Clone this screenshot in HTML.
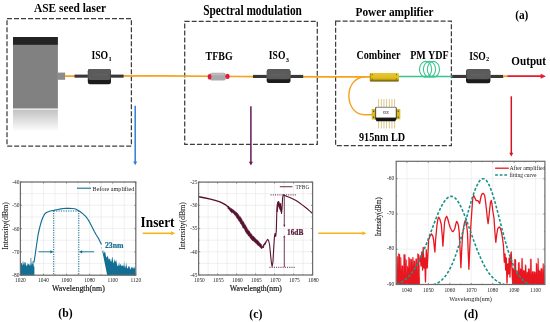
<!DOCTYPE html>
<html><head><meta charset="utf-8"><title>Fiber laser setup</title>
<style>html,body{margin:0;padding:0;background:#fff;width:550px;height:322px;overflow:hidden}svg{display:block}</style>
</head><body>
<svg width="550" height="322" viewBox="0 0 550 322" font-family='"Liberation Serif", "Times New Roman", serif'>
<defs><linearGradient id="refl" x1="0" y1="0" x2="0" y2="1"><stop offset="0" stop-color="#c2c2c2"/><stop offset="1" stop-color="#ffffff"/></linearGradient></defs>
<rect width="550" height="322" fill="#fff"/>
<text x="34" y="11.6" font-size="13.3" font-weight="bold" fill="#000" text-anchor="start" textLength="72" lengthAdjust="spacingAndGlyphs" >ASE seed laser</text>
<text x="203.2" y="14.8" font-size="13.7" font-weight="bold" fill="#000" text-anchor="start" textLength="98.7" lengthAdjust="spacingAndGlyphs" >Spectral modulation</text>
<text x="355.5" y="15.7" font-size="13.4" font-weight="bold" fill="#000" text-anchor="start" textLength="78" lengthAdjust="spacingAndGlyphs" >Power amplifier</text>
<text x="515.2" y="18.8" font-size="13" font-weight="bold" fill="#000" text-anchor="start" textLength="13.2" lengthAdjust="spacingAndGlyphs" >(a)</text>
<rect x="7" y="18.6" width="124.4" height="127.4" fill="none" stroke="#3e3e3e" stroke-width="1.25" stroke-dasharray="5 2"/>
<rect x="184.7" y="21.4" width="132.60000000000002" height="123.0" fill="none" stroke="#3e3e3e" stroke-width="1.25" stroke-dasharray="5 2"/>
<rect x="335.6" y="21" width="115.79999999999995" height="124.6" fill="none" stroke="#3e3e3e" stroke-width="1.25" stroke-dasharray="5 2"/>
<rect x="13" y="37" width="44.9" height="8" fill="#232323"/>
<rect x="13" y="44.8" width="44.9" height="63.7" fill="#818181"/>
<rect x="13" y="109.6" width="44.9" height="22" fill="url(#refl)"/>
<rect x="57.9" y="72.6" width="7.2" height="7.2" fill="#8c8c8c"/>
<polyline points="65,76.2 160,75.9 240,76.5 340,76.9 372,76.9" fill="none" stroke="#f6a21f" stroke-width="1.7"/>
<line x1="398" y1="76.5" x2="454" y2="76.5" stroke="#3cc48e" stroke-width="1.4"/>
<path d="M 365 77 C 343.5 77, 343.5 114.7, 365 114.7 L 373 114.7" fill="none" stroke="#f5a21e" stroke-width="1.4"/>
<rect x="74.5" y="74.60000000000001" width="13.299999999999997" height="3.1" fill="#383838"/>
<rect x="111" y="74.60000000000001" width="12.599999999999994" height="3.1" fill="#383838"/>
<rect x="87.8" y="69.1" width="23.200000000000003" height="15.200000000000003" rx="2.2" fill="#1c1c1c"/>
<rect x="88.1" y="69.1" width="22.6" height="10.944" rx="2" fill="#5b5b5b"/>
<rect x="91.8" y="74.39999999999999" width="15.200000000000003" height="0.8" fill="#6e6e6e" opacity="0.6"/>
<text x="91.4" y="59.1" font-size="11.8" font-weight="bold" fill="#000" text-anchor="start" textLength="16.8" lengthAdjust="spacingAndGlyphs" >ISO</text>
<text x="108.6" y="61.4" font-size="6.4" font-weight="bold" fill="#000" text-anchor="start" >1</text>
<text x="205.6" y="59.8" font-size="12" font-weight="bold" fill="#000" text-anchor="start" textLength="27" lengthAdjust="spacingAndGlyphs" >TFBG</text>
<rect x="209.8" y="72.7" width="16" height="7.9" rx="2" fill="#a9a9a9"/>
<rect x="211" y="73.3" width="13.5" height="2" fill="#c4c4c4" opacity="0.7"/>
<ellipse cx="209.6" cy="76.8" rx="1.9" ry="2.8" fill="#e8163c"/>
<ellipse cx="227.5" cy="76.4" rx="2.2" ry="2.6" fill="#e8163c"/>
<rect x="253" y="74.9" width="13.699999999999989" height="3.1" fill="#383838"/>
<rect x="290.5" y="74.9" width="12.699999999999989" height="3.1" fill="#383838"/>
<rect x="266.7" y="69.2" width="23.80000000000001" height="13.799999999999997" rx="2.2" fill="#1c1c1c"/>
<rect x="267.0" y="69.2" width="23.20000000000001" height="9.935999999999998" rx="2" fill="#5b5b5b"/>
<rect x="270.7" y="74.5" width="15.800000000000011" height="0.8" fill="#6e6e6e" opacity="0.6"/>
<text x="268.8" y="59.4" font-size="11.8" font-weight="bold" fill="#000" text-anchor="start" textLength="16.6" lengthAdjust="spacingAndGlyphs" >ISO</text>
<text x="285.8" y="61.6" font-size="6.4" font-weight="bold" fill="#000" text-anchor="start" >3</text>
<text x="356.4" y="59.4" font-size="12" font-weight="bold" fill="#000" text-anchor="start" textLength="44" lengthAdjust="spacingAndGlyphs" >Combiner</text>
<defs><linearGradient id="cmb" x1="0" y1="0" x2="0" y2="1"><stop offset="0" stop-color="#e8c832"/><stop offset="0.6" stop-color="#dfbd1c"/><stop offset="0.78" stop-color="#b89a10"/><stop offset="1" stop-color="#4a3c00"/></linearGradient></defs>
<rect x="369.8" y="72.9" width="29.1" height="8.7" rx="1" fill="url(#cmb)"/>
<rect x="369.8" y="73.2" width="1.3" height="8" fill="#9a8000" opacity="0.6"/>
<circle cx="372.3" cy="74.6" r="0.55" fill="#6b5800"/>
<circle cx="396.4" cy="74.6" r="0.55" fill="#6b5800"/>
<circle cx="372.3" cy="79.0" r="0.55" fill="#6b5800"/>
<circle cx="396.4" cy="79.0" r="0.55" fill="#6b5800"/>
<text x="410.2" y="59" font-size="12" font-weight="bold" fill="#000" text-anchor="start" textLength="38.5" lengthAdjust="spacingAndGlyphs" >PM YDF</text>
<ellipse cx="425.6" cy="69.3" rx="6.1" ry="7.9" fill="none" stroke="#3cc48e" stroke-width="1.1"/>
<ellipse cx="429.5" cy="69.3" rx="6.1" ry="7.9" fill="none" stroke="#3cc48e" stroke-width="1.1"/>
<ellipse cx="433.4" cy="69.3" rx="6.1" ry="7.9" fill="none" stroke="#3cc48e" stroke-width="1.1"/>
<rect x="378.15" y="99.1" width="0.9" height="8.2" fill="#d6c27e"/>
<rect x="378.15" y="121" width="0.9" height="7.4" fill="#d6c27e"/>
<rect x="380.82" y="99.1" width="0.9" height="8.2" fill="#d6c27e"/>
<rect x="380.82" y="121" width="0.9" height="7.4" fill="#d6c27e"/>
<rect x="383.49" y="99.1" width="0.9" height="8.2" fill="#d6c27e"/>
<rect x="383.49" y="121" width="0.9" height="7.4" fill="#d6c27e"/>
<rect x="386.16" y="99.1" width="0.9" height="8.2" fill="#d6c27e"/>
<rect x="386.16" y="121" width="0.9" height="7.4" fill="#d6c27e"/>
<rect x="388.83" y="99.1" width="0.9" height="8.2" fill="#d6c27e"/>
<rect x="388.83" y="121" width="0.9" height="7.4" fill="#d6c27e"/>
<rect x="391.50" y="99.1" width="0.9" height="8.2" fill="#d6c27e"/>
<rect x="391.50" y="121" width="0.9" height="7.4" fill="#d6c27e"/>
<rect x="394.17" y="99.1" width="0.9" height="8.2" fill="#d6c27e"/>
<rect x="394.17" y="121" width="0.9" height="7.4" fill="#d6c27e"/>
<rect x="371.7" y="109" width="4.2" height="10.5" fill="#d8bb22"/>
<rect x="395.9" y="109" width="4.4" height="10.3" fill="#d8bb22"/>
<circle cx="373.6" cy="111.2" r="0.75" fill="#4a4a3a"/><circle cx="373.6" cy="117.3" r="0.75" fill="#4a4a3a"/>
<circle cx="398.2" cy="111.2" r="0.75" fill="#4a4a3a"/><circle cx="398.2" cy="117.3" r="0.75" fill="#4a4a3a"/>
<path d="M 375.3 108 Q 375.3 107 376.3 107 L 395.5 107 Q 396.5 107 396.5 108 L 396.5 119 L 395.2 121.3 L 376.6 121.3 L 375.3 119 Z" fill="#141414"/>
<rect x="375.8" y="107.2" width="20.2" height="10.6" rx="0.8" fill="#ffffff" stroke="#333" stroke-width="0.4"/>
<text x="385.8" y="113.6" font-size="3" fill="#555" text-anchor="middle" font-family="Liberation Sans, sans-serif" font-weight="bold">XXX</text>
<text x="359" y="140.6" font-size="11.6" font-weight="bold" fill="#000" text-anchor="start" textLength="46" lengthAdjust="spacingAndGlyphs" >915nm LD</text>
<rect x="452.2" y="74.9" width="13.800000000000011" height="3.1" fill="#383838"/>
<rect x="490.4" y="74.9" width="12.900000000000034" height="3.1" fill="#383838"/>
<rect x="466" y="69.2" width="24.399999999999977" height="14.0" rx="2.2" fill="#1c1c1c"/>
<rect x="466.3" y="69.2" width="23.799999999999976" height="10.08" rx="2" fill="#5b5b5b"/>
<rect x="470" y="74.5" width="16.399999999999977" height="0.8" fill="#6e6e6e" opacity="0.6"/>
<text x="469.2" y="59.9" font-size="11.8" font-weight="bold" fill="#000" text-anchor="start" textLength="16.6" lengthAdjust="spacingAndGlyphs" >ISO</text>
<text x="486.1" y="61.4" font-size="6.4" font-weight="bold" fill="#000" text-anchor="start" >2</text>
<line x1="503.3" y1="76.2" x2="507.6" y2="76.2" stroke="#f5a21e" stroke-width="1.8"/>
<line x1="507.4" y1="76.2" x2="541.5" y2="76.2" stroke="#e8192c" stroke-width="1.8"/>
<path d="M 540.6 73.7 L 546 76.2 L 540.6 78.7 Z" fill="#e8192c"/>
<text x="511.3" y="64.9" font-size="12.4" font-weight="bold" fill="#000" text-anchor="start" textLength="34.7" lengthAdjust="spacingAndGlyphs" >Output</text>
<line x1="135.2" y1="105.7" x2="135.2" y2="162.3" stroke="#2f7fd0" stroke-width="1.5"/>
<path d="M 133.2 161.5 L 135.2 165.3 L 137.2 161.5 Z" fill="#2f7fd0"/>
<line x1="250.9" y1="106.2" x2="250.9" y2="162.5" stroke="#5e1a55" stroke-width="1.5"/>
<path d="M 248.9 161.7 L 250.9 165.5 L 252.9 161.7 Z" fill="#5e1a55"/>
<line x1="511.3" y1="96.3" x2="511.3" y2="153.5" stroke="#d4141f" stroke-width="1.5"/>
<path d="M 509.3 152.7 L 511.3 156.5 L 513.3 152.7 Z" fill="#d4141f"/>
<line x1="31.94" y1="182.0" x2="31.94" y2="275.2" stroke="#e6e6e6" stroke-width="0.6"/>
<line x1="55.02" y1="182.0" x2="55.02" y2="275.2" stroke="#e6e6e6" stroke-width="0.6"/>
<line x1="78.10" y1="182.0" x2="78.10" y2="275.2" stroke="#e6e6e6" stroke-width="0.6"/>
<line x1="101.18" y1="182.0" x2="101.18" y2="275.2" stroke="#e6e6e6" stroke-width="0.6"/>
<line x1="124.26" y1="182.0" x2="124.26" y2="275.2" stroke="#e6e6e6" stroke-width="0.6"/>
<line x1="20.40" y1="182.0" x2="20.40" y2="275.2" stroke="#e6e6e6" stroke-width="0.6"/>
<line x1="43.48" y1="182.0" x2="43.48" y2="275.2" stroke="#e6e6e6" stroke-width="0.6"/>
<line x1="66.56" y1="182.0" x2="66.56" y2="275.2" stroke="#e6e6e6" stroke-width="0.6"/>
<line x1="89.64" y1="182.0" x2="89.64" y2="275.2" stroke="#e6e6e6" stroke-width="0.6"/>
<line x1="112.72" y1="182.0" x2="112.72" y2="275.2" stroke="#e6e6e6" stroke-width="0.6"/>
<line x1="135.80" y1="182.0" x2="135.80" y2="275.2" stroke="#e6e6e6" stroke-width="0.6"/>
<line x1="20.4" y1="193.65" x2="135.8" y2="193.65" stroke="#e6e6e6" stroke-width="0.6"/>
<line x1="20.4" y1="216.95" x2="135.8" y2="216.95" stroke="#e6e6e6" stroke-width="0.6"/>
<line x1="20.4" y1="240.25" x2="135.8" y2="240.25" stroke="#e6e6e6" stroke-width="0.6"/>
<line x1="20.4" y1="263.55" x2="135.8" y2="263.55" stroke="#e6e6e6" stroke-width="0.6"/>
<line x1="20.4" y1="182.00" x2="135.8" y2="182.00" stroke="#e6e6e6" stroke-width="0.6"/>
<line x1="20.4" y1="205.30" x2="135.8" y2="205.30" stroke="#e6e6e6" stroke-width="0.6"/>
<line x1="20.4" y1="228.60" x2="135.8" y2="228.60" stroke="#e6e6e6" stroke-width="0.6"/>
<line x1="20.4" y1="251.90" x2="135.8" y2="251.90" stroke="#e6e6e6" stroke-width="0.6"/>
<line x1="20.4" y1="275.20" x2="135.8" y2="275.20" stroke="#e6e6e6" stroke-width="0.6"/>
<polygon points="20.90,262.16 21.35,263.19 21.80,262.96 22.25,264.77 22.70,265.64 23.15,263.66 23.60,263.04 24.05,265.50 24.50,262.37 24.95,261.94 25.40,265.32 25.85,264.04 26.30,266.34 26.75,265.30 27.20,265.68 27.65,262.94 28.10,264.02 28.55,264.49 29.00,263.31 29.45,264.93 29.90,265.53 30.35,263.62 30.80,266.27 31.25,264.90 31.70,262.85 32.15,261.19 32.60,264.58 33.05,263.66 33.50,265.54 33.95,266.82 34.40,266.18 34.40,262.20 34.40,275.20 20.90,275.20" fill="#126e93"/>
<line x1="30.9" y1="257.9" x2="30.9" y2="266" stroke="#126e93" stroke-width="0.7"/>
<line x1="23.0" y1="261.5" x2="23.0" y2="266" stroke="#126e93" stroke-width="0.7"/>
<line x1="25.5" y1="262.5" x2="25.5" y2="266" stroke="#126e93" stroke-width="0.7"/>
<line x1="33.2" y1="261" x2="33.2" y2="266" stroke="#126e93" stroke-width="0.7"/>
<polyline points="34.00,262.50 35.00,256.00 36.00,249.00 37.00,242.00 38.30,233.50 39.80,227.10 41.20,222.00 42.60,218.00 44.00,215.20 45.40,213.20 47.00,212.20 48.20,211.70 50.50,211.00 53.70,210.40 57.90,209.50 61.00,208.90 63.50,208.50 66.00,208.30 69.10,208.30 72.00,208.50 74.50,208.80 76.10,209.30 78.30,210.40 80.30,211.80 83.00,213.90 85.90,216.60 88.00,219.50 90.00,222.90 92.10,227.00 94.20,231.30 96.30,235.00 98.40,238.30 100.00,241.50 101.50,244.50" fill="none" stroke="#126e93" stroke-width="1.15" stroke-linejoin="round"/>
<polygon points="100.80,246.50 101.60,248.71 102.10,250.39 102.60,251.25 103.10,249.75 103.60,254.10 104.10,250.93 104.60,252.91 105.10,251.71 105.60,254.35 106.10,256.76 106.60,257.46 107.10,257.31 107.60,255.58 108.10,256.81 108.60,260.08 109.10,258.08 109.60,259.47 110.10,258.75 110.60,260.99 111.10,262.06 111.60,260.49 112.10,256.81 112.60,257.86 113.10,261.44 113.60,263.52 114.10,262.05 114.60,258.86 115.10,261.63 115.60,260.35 116.10,263.34 116.60,259.34 117.10,265.93 117.60,265.45 118.10,266.36 118.60,264.49 119.10,261.85 119.60,266.44 120.10,263.85 120.60,264.19 121.10,266.20 121.60,265.37 122.10,266.25 122.60,265.57 123.10,264.85 123.60,267.20 124.10,260.47 124.60,266.92 125.10,266.00 125.60,268.26 126.10,262.13 126.60,265.56 127.10,268.49 127.60,268.13 128.10,267.80 128.60,265.95 129.10,266.13 129.60,266.69 130.10,269.25 130.60,269.20 131.10,267.48 131.60,267.47 132.10,267.23 132.60,267.17 133.10,269.30 133.60,267.67 134.10,266.23 134.60,268.75 135.10,267.27 135.40,267.79 135.40,275.20 107.20,275.20 101.50,247.50" fill="#126e93"/>
<g stroke="#126e93" stroke-width="1" stroke-dasharray="1.2 1.2" fill="none">
<line x1="53.7" y1="210.6" x2="53.7" y2="275.2"/>
<line x1="78.8" y1="210.6" x2="78.8" y2="275.2"/>
<line x1="53.7" y1="211.0" x2="78.8" y2="211.0"/>
</g>
<line x1="38.5" y1="251.8" x2="51.5" y2="251.8" stroke="#126e93" stroke-width="0.9"/>
<path d="M 50.3 250.2 L 53.6 251.8 L 50.3 253.4 Z" fill="#126e93"/>
<line x1="81" y1="251.8" x2="94.2" y2="251.8" stroke="#126e93" stroke-width="0.9"/>
<path d="M 82.2 250.2 L 78.9 251.8 L 82.2 253.4 Z" fill="#126e93"/>
<text x="105" y="247.7" font-size="8.6" font-weight="bold" fill="#126e93" text-anchor="start" textLength="18.5" lengthAdjust="spacingAndGlyphs" stroke="#126e93" stroke-width="0.2">23nm</text>
<line x1="77" y1="188.2" x2="91" y2="188.2" stroke="#126e93" stroke-width="1.1"/>
<text x="92.6" y="190.7" font-size="7.0" font-weight="normal" fill="#1a1a1a" text-anchor="start" textLength="41.8" lengthAdjust="spacingAndGlyphs" >Before amplified</text>
<line x1="31.94" y1="275.2" x2="31.94" y2="274.2" stroke="#6c6c6c" stroke-width="0.6"/>
<line x1="31.94" y1="182.0" x2="31.94" y2="183.0" stroke="#6c6c6c" stroke-width="0.6"/>
<line x1="55.02" y1="275.2" x2="55.02" y2="274.2" stroke="#6c6c6c" stroke-width="0.6"/>
<line x1="55.02" y1="182.0" x2="55.02" y2="183.0" stroke="#6c6c6c" stroke-width="0.6"/>
<line x1="78.10" y1="275.2" x2="78.10" y2="274.2" stroke="#6c6c6c" stroke-width="0.6"/>
<line x1="78.10" y1="182.0" x2="78.10" y2="183.0" stroke="#6c6c6c" stroke-width="0.6"/>
<line x1="101.18" y1="275.2" x2="101.18" y2="274.2" stroke="#6c6c6c" stroke-width="0.6"/>
<line x1="101.18" y1="182.0" x2="101.18" y2="183.0" stroke="#6c6c6c" stroke-width="0.6"/>
<line x1="124.26" y1="275.2" x2="124.26" y2="274.2" stroke="#6c6c6c" stroke-width="0.6"/>
<line x1="124.26" y1="182.0" x2="124.26" y2="183.0" stroke="#6c6c6c" stroke-width="0.6"/>
<line x1="20.4" y1="193.65" x2="21.4" y2="193.65" stroke="#6c6c6c" stroke-width="0.6"/>
<line x1="135.8" y1="193.65" x2="134.8" y2="193.65" stroke="#6c6c6c" stroke-width="0.6"/>
<line x1="20.4" y1="216.95" x2="21.4" y2="216.95" stroke="#6c6c6c" stroke-width="0.6"/>
<line x1="135.8" y1="216.95" x2="134.8" y2="216.95" stroke="#6c6c6c" stroke-width="0.6"/>
<line x1="20.4" y1="240.25" x2="21.4" y2="240.25" stroke="#6c6c6c" stroke-width="0.6"/>
<line x1="135.8" y1="240.25" x2="134.8" y2="240.25" stroke="#6c6c6c" stroke-width="0.6"/>
<line x1="20.4" y1="263.55" x2="21.4" y2="263.55" stroke="#6c6c6c" stroke-width="0.6"/>
<line x1="135.8" y1="263.55" x2="134.8" y2="263.55" stroke="#6c6c6c" stroke-width="0.6"/>
<rect x="20.4" y="182.0" width="115.4" height="93.19999999999999" fill="none" stroke="#6c6c6c" stroke-width="1.2"/>
<line x1="20.40" y1="275.2" x2="20.40" y2="273.59999999999997" stroke="#6c6c6c" stroke-width="0.7"/>
<line x1="20.40" y1="182.0" x2="20.40" y2="183.6" stroke="#6c6c6c" stroke-width="0.7"/>
<line x1="43.48" y1="275.2" x2="43.48" y2="273.59999999999997" stroke="#6c6c6c" stroke-width="0.7"/>
<line x1="43.48" y1="182.0" x2="43.48" y2="183.6" stroke="#6c6c6c" stroke-width="0.7"/>
<line x1="66.56" y1="275.2" x2="66.56" y2="273.59999999999997" stroke="#6c6c6c" stroke-width="0.7"/>
<line x1="66.56" y1="182.0" x2="66.56" y2="183.6" stroke="#6c6c6c" stroke-width="0.7"/>
<line x1="89.64" y1="275.2" x2="89.64" y2="273.59999999999997" stroke="#6c6c6c" stroke-width="0.7"/>
<line x1="89.64" y1="182.0" x2="89.64" y2="183.6" stroke="#6c6c6c" stroke-width="0.7"/>
<line x1="112.72" y1="275.2" x2="112.72" y2="273.59999999999997" stroke="#6c6c6c" stroke-width="0.7"/>
<line x1="112.72" y1="182.0" x2="112.72" y2="183.6" stroke="#6c6c6c" stroke-width="0.7"/>
<line x1="135.80" y1="275.2" x2="135.80" y2="273.59999999999997" stroke="#6c6c6c" stroke-width="0.7"/>
<line x1="135.80" y1="182.0" x2="135.80" y2="183.6" stroke="#6c6c6c" stroke-width="0.7"/>
<line x1="20.4" y1="182.00" x2="22.0" y2="182.00" stroke="#6c6c6c" stroke-width="0.7"/>
<line x1="135.8" y1="182.00" x2="134.20000000000002" y2="182.00" stroke="#6c6c6c" stroke-width="0.7"/>
<line x1="20.4" y1="205.30" x2="22.0" y2="205.30" stroke="#6c6c6c" stroke-width="0.7"/>
<line x1="135.8" y1="205.30" x2="134.20000000000002" y2="205.30" stroke="#6c6c6c" stroke-width="0.7"/>
<line x1="20.4" y1="228.60" x2="22.0" y2="228.60" stroke="#6c6c6c" stroke-width="0.7"/>
<line x1="135.8" y1="228.60" x2="134.20000000000002" y2="228.60" stroke="#6c6c6c" stroke-width="0.7"/>
<line x1="20.4" y1="251.90" x2="22.0" y2="251.90" stroke="#6c6c6c" stroke-width="0.7"/>
<line x1="135.8" y1="251.90" x2="134.20000000000002" y2="251.90" stroke="#6c6c6c" stroke-width="0.7"/>
<line x1="20.4" y1="275.20" x2="22.0" y2="275.20" stroke="#6c6c6c" stroke-width="0.7"/>
<line x1="135.8" y1="275.20" x2="134.20000000000002" y2="275.20" stroke="#6c6c6c" stroke-width="0.7"/>
<text x="20.40" y="281.9" font-size="5.4" font-weight="normal" fill="#222" text-anchor="middle" >1020</text>
<text x="43.48" y="281.9" font-size="5.4" font-weight="normal" fill="#222" text-anchor="middle" >1040</text>
<text x="66.56" y="281.9" font-size="5.4" font-weight="normal" fill="#222" text-anchor="middle" >1060</text>
<text x="89.64" y="281.9" font-size="5.4" font-weight="normal" fill="#222" text-anchor="middle" >1080</text>
<text x="112.72" y="281.9" font-size="5.4" font-weight="normal" fill="#222" text-anchor="middle" >1100</text>
<text x="135.80" y="281.9" font-size="5.4" font-weight="normal" fill="#222" text-anchor="middle" >1120</text>
<text x="19.4" y="183.90" font-size="5.4" font-weight="normal" fill="#222" text-anchor="end" >-40</text>
<text x="19.4" y="207.20" font-size="5.4" font-weight="normal" fill="#222" text-anchor="end" >-50</text>
<text x="19.4" y="230.50" font-size="5.4" font-weight="normal" fill="#222" text-anchor="end" >-60</text>
<text x="19.4" y="253.80" font-size="5.4" font-weight="normal" fill="#222" text-anchor="end" >-70</text>
<text x="19.4" y="277.10" font-size="5.4" font-weight="normal" fill="#222" text-anchor="end" >-80</text>
<text x="52" y="291.2" font-size="8.2" font-weight="normal" fill="#1a1a1a" text-anchor="start" textLength="52.8" lengthAdjust="spacingAndGlyphs" stroke="#1a1a1a" stroke-width="0.2">Wavelength(nm)</text>
<text transform="translate(7.9,249.8) rotate(-90)" font-size="8.4" fill="#222" stroke="#222" stroke-width="0.08" textLength="47.7" lengthAdjust="spacingAndGlyphs">Intensity(dBm)</text>
<line x1="208.10" y1="182.1" x2="208.10" y2="275.0" stroke="#e6e6e6" stroke-width="0.6"/>
<line x1="227.10" y1="182.1" x2="227.10" y2="275.0" stroke="#e6e6e6" stroke-width="0.6"/>
<line x1="246.10" y1="182.1" x2="246.10" y2="275.0" stroke="#e6e6e6" stroke-width="0.6"/>
<line x1="265.10" y1="182.1" x2="265.10" y2="275.0" stroke="#e6e6e6" stroke-width="0.6"/>
<line x1="284.10" y1="182.1" x2="284.10" y2="275.0" stroke="#e6e6e6" stroke-width="0.6"/>
<line x1="303.10" y1="182.1" x2="303.10" y2="275.0" stroke="#e6e6e6" stroke-width="0.6"/>
<line x1="198.60" y1="182.1" x2="198.60" y2="275.0" stroke="#e6e6e6" stroke-width="0.6"/>
<line x1="217.60" y1="182.1" x2="217.60" y2="275.0" stroke="#e6e6e6" stroke-width="0.6"/>
<line x1="236.60" y1="182.1" x2="236.60" y2="275.0" stroke="#e6e6e6" stroke-width="0.6"/>
<line x1="255.60" y1="182.1" x2="255.60" y2="275.0" stroke="#e6e6e6" stroke-width="0.6"/>
<line x1="274.60" y1="182.1" x2="274.60" y2="275.0" stroke="#e6e6e6" stroke-width="0.6"/>
<line x1="293.60" y1="182.1" x2="293.60" y2="275.0" stroke="#e6e6e6" stroke-width="0.6"/>
<line x1="312.60" y1="182.1" x2="312.60" y2="275.0" stroke="#e6e6e6" stroke-width="0.6"/>
<line x1="198.6" y1="193.71" x2="312.6" y2="193.71" stroke="#e6e6e6" stroke-width="0.6"/>
<line x1="198.6" y1="216.94" x2="312.6" y2="216.94" stroke="#e6e6e6" stroke-width="0.6"/>
<line x1="198.6" y1="240.16" x2="312.6" y2="240.16" stroke="#e6e6e6" stroke-width="0.6"/>
<line x1="198.6" y1="263.39" x2="312.6" y2="263.39" stroke="#e6e6e6" stroke-width="0.6"/>
<line x1="198.6" y1="182.10" x2="312.6" y2="182.10" stroke="#e6e6e6" stroke-width="0.6"/>
<line x1="198.6" y1="205.32" x2="312.6" y2="205.32" stroke="#e6e6e6" stroke-width="0.6"/>
<line x1="198.6" y1="228.55" x2="312.6" y2="228.55" stroke="#e6e6e6" stroke-width="0.6"/>
<line x1="198.6" y1="251.77" x2="312.6" y2="251.77" stroke="#e6e6e6" stroke-width="0.6"/>
<line x1="198.6" y1="275.00" x2="312.6" y2="275.00" stroke="#e6e6e6" stroke-width="0.6"/>
<polyline points="198.80,196.80 204.00,197.80 210.50,199.10 216.00,200.60 219.90,201.90 223.00,203.30 226.10,205.20 228.50,207.30" fill="none" stroke="#561230" stroke-width="1.4" stroke-linejoin="round"/>
<polygon points="228.00,206.28 228.60,206.49 229.20,206.79 229.80,207.89 230.40,207.92 231.00,208.39 231.64,208.69 232.28,208.96 232.92,209.75 233.56,210.04 234.20,210.68 234.82,211.16 235.44,211.94 236.06,212.14 236.68,212.46 237.30,213.05 237.92,214.40 238.54,214.63 239.16,215.89 239.78,216.64 240.40,216.86 241.02,218.52 241.64,218.71 242.26,220.49 242.88,221.40 243.50,221.72 244.12,223.31 244.74,224.39 245.36,224.87 245.98,226.49 246.60,227.02 247.22,228.73 247.84,229.43 248.46,230.64 249.08,230.63 249.70,231.82 250.32,232.90 250.94,233.67 251.56,234.02 252.18,235.51 252.80,236.25 253.44,236.32 254.08,236.79 254.72,237.93 255.36,238.29 256.00,239.16 256.62,239.63 257.24,240.17 257.86,240.44 258.48,241.19 259.10,242.16 259.87,243.23 260.63,243.73 261.40,244.60 261.40,248.60 260.63,247.47 259.87,246.59 259.10,246.02 258.48,245.55 257.86,245.47 257.24,244.51 256.62,243.80 256.00,243.53 255.36,242.67 254.72,242.33 254.08,241.60 253.44,240.70 252.80,240.99 252.18,240.05 251.56,239.69 250.94,238.59 250.32,238.12 249.70,236.97 249.08,235.95 248.46,236.00 247.84,234.61 247.22,234.10 246.60,233.43 245.98,232.21 245.36,231.61 244.74,229.62 244.12,228.67 243.50,228.07 242.88,227.86 242.26,225.66 241.64,224.84 241.02,224.26 240.40,223.33 239.78,221.31 239.16,221.53 238.54,220.32 237.92,218.91 237.30,218.46 236.68,217.81 236.06,216.38 235.44,215.34 234.82,215.21 234.20,214.01 233.56,213.18 232.92,213.17 232.28,212.14 231.64,212.71 231.00,211.85 230.40,211.39 229.80,210.13 229.20,209.67 228.60,208.78 228.00,209.10" fill="#561230" stroke="#561230" stroke-width="0.6" stroke-linejoin="round"/>
<polyline points="261.70,247.30 262.50,247.00 263.50,245.20 265.10,243.00 266.50,241.00 267.70,239.40 268.60,240.50 269.60,245.00 270.50,254.00 271.30,262.00 272.10,266.50 272.90,262.50 273.60,250.00 274.40,237.00 275.00,233.50 275.70,236.50 276.30,231.00 276.80,212.00 277.30,204.50 278.00,202.20 278.70,201.60 279.30,205.50 279.90,207.20 280.50,203.50 281.00,208.00 281.50,213.50 282.00,209.00 282.60,198.00 283.20,194.80 283.70,194.90 286.50,196.20 289.80,197.40 293.00,198.90 296.00,200.50 299.00,202.50 302.20,204.90 305.30,207.30 308.40,209.80 310.50,211.70 312.50,213.60" fill="none" stroke="#561230" stroke-width="1.1" stroke-linejoin="round"/>
<polygon points="276.9,210 277.5,203.5 278.3,201.4 279.0,202.2 279.6,205.5 280.3,204 280.9,206.5 281.3,212 280.6,210.5 279.9,209.5 279.2,207.8 278.5,205.5 277.8,207.5 277.3,212" fill="#561230" stroke="#561230" stroke-width="0.6"/>
<polyline points="259.5,244.5 260.3,247.2 261,245.8 261.8,248.4 262.6,246.6 263.4,247.8 264.2,244.2 265,244.8 265.8,242.6 266.6,241.8" fill="none" stroke="#561230" stroke-width="1.0"/>
<g stroke="#561230" stroke-width="0.9" stroke-dasharray="1.1 1.1" fill="none">
<line x1="270.6" y1="194.9" x2="296" y2="194.9"/>
<line x1="269.4" y1="267.3" x2="295" y2="267.3"/>
</g>
<line x1="284.3" y1="195.3" x2="284.3" y2="225" stroke="#561230" stroke-width="0.8"/>
<path d="M 283.3 224.8 L 284.3 227.3 L 285.3 224.8 Z" fill="#561230"/>
<line x1="284.3" y1="237.5" x2="284.3" y2="267" stroke="#561230" stroke-width="0.8"/>
<path d="M 283.3 237.6 L 284.3 235.2 L 285.3 237.6 Z" fill="#561230"/>
<text x="287" y="235.2" font-size="7.8" font-weight="bold" fill="#561230" text-anchor="start" textLength="16.3" lengthAdjust="spacingAndGlyphs" stroke="#561230" stroke-width="0.2">16dB</text>
<line x1="279.8" y1="186.7" x2="292.4" y2="186.7" stroke="#7a3a55" stroke-width="1.1"/>
<text x="295.5" y="188.9" font-size="6.0" font-weight="normal" fill="#333" text-anchor="start" textLength="13.8" lengthAdjust="spacingAndGlyphs" >TFBG</text>
<line x1="208.10" y1="275.0" x2="208.10" y2="274.0" stroke="#6c6c6c" stroke-width="0.6"/>
<line x1="208.10" y1="182.1" x2="208.10" y2="183.1" stroke="#6c6c6c" stroke-width="0.6"/>
<line x1="227.10" y1="275.0" x2="227.10" y2="274.0" stroke="#6c6c6c" stroke-width="0.6"/>
<line x1="227.10" y1="182.1" x2="227.10" y2="183.1" stroke="#6c6c6c" stroke-width="0.6"/>
<line x1="246.10" y1="275.0" x2="246.10" y2="274.0" stroke="#6c6c6c" stroke-width="0.6"/>
<line x1="246.10" y1="182.1" x2="246.10" y2="183.1" stroke="#6c6c6c" stroke-width="0.6"/>
<line x1="265.10" y1="275.0" x2="265.10" y2="274.0" stroke="#6c6c6c" stroke-width="0.6"/>
<line x1="265.10" y1="182.1" x2="265.10" y2="183.1" stroke="#6c6c6c" stroke-width="0.6"/>
<line x1="284.10" y1="275.0" x2="284.10" y2="274.0" stroke="#6c6c6c" stroke-width="0.6"/>
<line x1="284.10" y1="182.1" x2="284.10" y2="183.1" stroke="#6c6c6c" stroke-width="0.6"/>
<line x1="303.10" y1="275.0" x2="303.10" y2="274.0" stroke="#6c6c6c" stroke-width="0.6"/>
<line x1="303.10" y1="182.1" x2="303.10" y2="183.1" stroke="#6c6c6c" stroke-width="0.6"/>
<line x1="198.6" y1="193.71" x2="199.6" y2="193.71" stroke="#6c6c6c" stroke-width="0.6"/>
<line x1="312.6" y1="193.71" x2="311.6" y2="193.71" stroke="#6c6c6c" stroke-width="0.6"/>
<line x1="198.6" y1="216.94" x2="199.6" y2="216.94" stroke="#6c6c6c" stroke-width="0.6"/>
<line x1="312.6" y1="216.94" x2="311.6" y2="216.94" stroke="#6c6c6c" stroke-width="0.6"/>
<line x1="198.6" y1="240.16" x2="199.6" y2="240.16" stroke="#6c6c6c" stroke-width="0.6"/>
<line x1="312.6" y1="240.16" x2="311.6" y2="240.16" stroke="#6c6c6c" stroke-width="0.6"/>
<line x1="198.6" y1="263.39" x2="199.6" y2="263.39" stroke="#6c6c6c" stroke-width="0.6"/>
<line x1="312.6" y1="263.39" x2="311.6" y2="263.39" stroke="#6c6c6c" stroke-width="0.6"/>
<rect x="198.6" y="182.1" width="114.00000000000003" height="92.9" fill="none" stroke="#6c6c6c" stroke-width="1.2"/>
<line x1="198.60" y1="275.0" x2="198.60" y2="273.4" stroke="#6c6c6c" stroke-width="0.7"/>
<line x1="198.60" y1="182.1" x2="198.60" y2="183.7" stroke="#6c6c6c" stroke-width="0.7"/>
<line x1="217.60" y1="275.0" x2="217.60" y2="273.4" stroke="#6c6c6c" stroke-width="0.7"/>
<line x1="217.60" y1="182.1" x2="217.60" y2="183.7" stroke="#6c6c6c" stroke-width="0.7"/>
<line x1="236.60" y1="275.0" x2="236.60" y2="273.4" stroke="#6c6c6c" stroke-width="0.7"/>
<line x1="236.60" y1="182.1" x2="236.60" y2="183.7" stroke="#6c6c6c" stroke-width="0.7"/>
<line x1="255.60" y1="275.0" x2="255.60" y2="273.4" stroke="#6c6c6c" stroke-width="0.7"/>
<line x1="255.60" y1="182.1" x2="255.60" y2="183.7" stroke="#6c6c6c" stroke-width="0.7"/>
<line x1="274.60" y1="275.0" x2="274.60" y2="273.4" stroke="#6c6c6c" stroke-width="0.7"/>
<line x1="274.60" y1="182.1" x2="274.60" y2="183.7" stroke="#6c6c6c" stroke-width="0.7"/>
<line x1="293.60" y1="275.0" x2="293.60" y2="273.4" stroke="#6c6c6c" stroke-width="0.7"/>
<line x1="293.60" y1="182.1" x2="293.60" y2="183.7" stroke="#6c6c6c" stroke-width="0.7"/>
<line x1="312.60" y1="275.0" x2="312.60" y2="273.4" stroke="#6c6c6c" stroke-width="0.7"/>
<line x1="312.60" y1="182.1" x2="312.60" y2="183.7" stroke="#6c6c6c" stroke-width="0.7"/>
<line x1="198.6" y1="182.10" x2="200.2" y2="182.10" stroke="#6c6c6c" stroke-width="0.7"/>
<line x1="312.6" y1="182.10" x2="311.0" y2="182.10" stroke="#6c6c6c" stroke-width="0.7"/>
<line x1="198.6" y1="205.32" x2="200.2" y2="205.32" stroke="#6c6c6c" stroke-width="0.7"/>
<line x1="312.6" y1="205.32" x2="311.0" y2="205.32" stroke="#6c6c6c" stroke-width="0.7"/>
<line x1="198.6" y1="228.55" x2="200.2" y2="228.55" stroke="#6c6c6c" stroke-width="0.7"/>
<line x1="312.6" y1="228.55" x2="311.0" y2="228.55" stroke="#6c6c6c" stroke-width="0.7"/>
<line x1="198.6" y1="251.77" x2="200.2" y2="251.77" stroke="#6c6c6c" stroke-width="0.7"/>
<line x1="312.6" y1="251.77" x2="311.0" y2="251.77" stroke="#6c6c6c" stroke-width="0.7"/>
<line x1="198.6" y1="275.00" x2="200.2" y2="275.00" stroke="#6c6c6c" stroke-width="0.7"/>
<line x1="312.6" y1="275.00" x2="311.0" y2="275.00" stroke="#6c6c6c" stroke-width="0.7"/>
<text x="199.40" y="281.9" font-size="5.4" font-weight="normal" fill="#222" text-anchor="middle" >1050</text>
<text x="218.40" y="281.9" font-size="5.4" font-weight="normal" fill="#222" text-anchor="middle" >1055</text>
<text x="237.40" y="281.9" font-size="5.4" font-weight="normal" fill="#222" text-anchor="middle" >1060</text>
<text x="256.40" y="281.9" font-size="5.4" font-weight="normal" fill="#222" text-anchor="middle" >1065</text>
<text x="275.40" y="281.9" font-size="5.4" font-weight="normal" fill="#222" text-anchor="middle" >1070</text>
<text x="294.40" y="281.9" font-size="5.4" font-weight="normal" fill="#222" text-anchor="middle" >1075</text>
<text x="313.40" y="281.9" font-size="5.4" font-weight="normal" fill="#222" text-anchor="middle" >1080</text>
<text x="197.4" y="184.00" font-size="5.4" font-weight="normal" fill="#222" text-anchor="end" >-25</text>
<text x="197.4" y="207.22" font-size="5.4" font-weight="normal" fill="#222" text-anchor="end" >-30</text>
<text x="197.4" y="230.45" font-size="5.4" font-weight="normal" fill="#222" text-anchor="end" >-35</text>
<text x="197.4" y="253.67" font-size="5.4" font-weight="normal" fill="#222" text-anchor="end" >-40</text>
<text x="197.4" y="276.90" font-size="5.4" font-weight="normal" fill="#222" text-anchor="end" >-45</text>
<text x="229.8" y="290.8" font-size="8.2" font-weight="normal" fill="#1a1a1a" text-anchor="start" textLength="52.1" lengthAdjust="spacingAndGlyphs" stroke="#1a1a1a" stroke-width="0.2">Wavelength(nm)</text>
<text transform="translate(185.4,249.7) rotate(-90)" font-size="8.3" fill="#222" stroke="#222" stroke-width="0.08" textLength="47.5" lengthAdjust="spacingAndGlyphs">Intensity(dBm)</text>
<text x="140.6" y="227.1" font-size="14.6" font-weight="bold" fill="#000" text-anchor="start" textLength="33.9" lengthAdjust="spacingAndGlyphs" >Insert</text>
<line x1="142.7" y1="233.3" x2="172" y2="233.3" stroke="#f7b21c" stroke-width="1.6"/>
<path d="M 171 231.3 L 175.2 233.3 L 171 235.3 Z" fill="#f7b21c"/>
<line x1="318.2" y1="233.2" x2="363" y2="233.2" stroke="#f7b21c" stroke-width="1.6"/>
<path d="M 362.3 231.2 L 366.4 233.2 L 362.3 235.2 Z" fill="#f7b21c"/>
<line x1="406.93" y1="161.3" x2="406.93" y2="284.5" stroke="#e6e6e6" stroke-width="0.6"/>
<line x1="428.38" y1="161.3" x2="428.38" y2="284.5" stroke="#e6e6e6" stroke-width="0.6"/>
<line x1="449.82" y1="161.3" x2="449.82" y2="284.5" stroke="#e6e6e6" stroke-width="0.6"/>
<line x1="471.27" y1="161.3" x2="471.27" y2="284.5" stroke="#e6e6e6" stroke-width="0.6"/>
<line x1="492.73" y1="161.3" x2="492.73" y2="284.5" stroke="#e6e6e6" stroke-width="0.6"/>
<line x1="514.17" y1="161.3" x2="514.17" y2="284.5" stroke="#e6e6e6" stroke-width="0.6"/>
<line x1="535.62" y1="161.3" x2="535.62" y2="284.5" stroke="#e6e6e6" stroke-width="0.6"/>
<line x1="396.2" y1="178.70" x2="544.9" y2="178.70" stroke="#e6e6e6" stroke-width="0.6"/>
<line x1="396.2" y1="213.97" x2="544.9" y2="213.97" stroke="#e6e6e6" stroke-width="0.6"/>
<line x1="396.2" y1="249.23" x2="544.9" y2="249.23" stroke="#e6e6e6" stroke-width="0.6"/>
<line x1="396.2" y1="284.50" x2="544.9" y2="284.50" stroke="#e6e6e6" stroke-width="0.6"/>
<polygon points="396.70,284.50 396.70,277.88 396.95,256.29 397.75,256.86 398.00,270.45 398.25,253.51 399.95,254.21 400.20,271.24 400.45,256.87 401.15,258.06 401.40,271.97 401.65,265.65 403.13,265.79 403.38,275.70 403.63,254.53 405.32,254.55 405.57,266.45 405.82,259.21 406.62,260.25 406.87,275.06 407.12,265.75 408.00,266.67 408.25,268.41 408.50,256.98 409.77,258.09 410.02,269.82 410.27,258.92 411.89,259.50 412.14,266.03 412.39,257.27 413.31,257.36 413.56,267.35 413.81,260.55 415.10,261.35 415.35,268.95 415.60,258.66 416.92,258.86 417.17,274.11 417.42,253.46 419.07,254.54 419.32,266.17 419.57,265.69 419.60,266.11 419.60,272.07 419.60,284.50" fill="#e8161e" stroke="#e8161e" stroke-width="0.3" stroke-linejoin="round"/>
<rect x="396.7" y="277" width="22.900000000000034" height="7.5" fill="#e8161e"/>
<polyline points="419.50,262.00 420.30,256.00 421.00,266.00 421.80,252.00 422.60,270.00 423.20,247.40 424.00,268.00 424.70,258.00 425.50,282.00 426.30,250.00 427.20,268.00 428.00,253.00 428.60,240.00 430.00,236.00 431.50,233.90 432.80,236.00 433.60,240.00 434.40,248.00 434.90,252.00 435.60,240.00 436.90,225.70 437.80,219.50 438.70,217.20 439.80,219.00 441.20,224.00 442.20,235.00 442.90,246.20 443.60,236.00 444.60,222.30 445.60,218.00 446.70,216.30 447.80,219.00 448.90,223.20 450.20,227.50 451.50,230.00 452.40,231.50 453.20,231.50 454.10,230.00 454.90,228.30 455.70,224.50 456.60,221.50 457.50,222.50 458.30,224.90 459.20,232.00 460.10,250.00 460.90,267.70 461.70,250.00 462.50,236.00 463.40,229.10 464.40,223.00 465.30,220.40 466.50,224.00 467.50,233.00 468.20,252.00 468.90,269.30 469.70,250.00 470.40,234.00 471.10,222.00 471.90,210.00 472.80,198.00 473.70,195.50 474.90,198.00 476.20,200.60 477.90,200.60 479.00,202.50 479.60,203.50 480.50,199.00 481.30,195.50 482.30,193.60 483.40,193.40 484.70,195.50 485.60,202.00 486.50,210.00 487.30,218.00 488.10,223.70 488.90,217.00 489.60,210.00 490.40,203.00 491.20,200.40 492.00,204.00 492.80,211.00 494.00,218.00 494.90,232.00 495.80,242.30 496.80,234.00 497.70,228.90 498.60,227.30 499.60,227.00 500.60,229.00 501.60,232.70 502.60,239.00 503.50,246.20 504.30,262.00 505.00,254.00 505.70,270.00 506.30,258.00 507.00,283.00 507.80,264.00 508.50,274.00 509.20,258.00 510.00,277.00 510.60,256.00 511.20,252.00 511.90,268.00 512.50,280.00 513.00,268.00" fill="none" stroke="#e8161e" stroke-width="1.3" stroke-linejoin="round"/>
<polygon points="512.30,284.50 512.30,276.81 512.55,268.54 513.81,269.62 514.06,270.71 514.31,259.25 515.99,259.62 516.24,276.35 516.49,270.15 517.66,270.82 517.91,276.91 518.16,262.45 519.54,262.53 519.79,272.72 520.04,268.59 521.07,268.95 521.32,268.57 521.57,258.30 522.64,258.41 522.89,272.12 523.14,270.07 524.66,270.64 524.91,271.42 525.16,264.49 526.18,265.40 526.43,275.85 526.68,271.56 527.71,272.57 527.96,272.16 528.21,268.38 529.79,268.89 530.04,274.83 530.29,258.82 531.48,259.21 531.73,276.17 531.98,271.40 533.67,271.61 533.92,274.75 534.17,271.52 535.60,272.22 535.85,275.17 536.10,262.95 537.30,263.97 537.55,276.34 537.80,257.82 538.50,258.75 538.75,268.21 539.00,270.57 540.27,270.68 540.52,274.08 540.77,268.24 542.34,268.64 542.59,275.25 542.84,263.25 543.56,263.85 543.81,272.46 544.06,264.69 544.40,265.22 544.40,269.82 544.40,284.50" fill="#e8161e" stroke="#e8161e" stroke-width="0.3" stroke-linejoin="round"/>
<rect x="512.3" y="275.5" width="32.10000000000002" height="9.0" fill="#e8161e"/>
<clipPath id="cpd"><rect x="396.2" y="161.3" width="148.7" height="122.6"/></clipPath>
<g clip-path="url(#cpd)">
<polyline points="396.63,284.16 397.17,283.98 397.70,283.79 398.24,283.58 398.77,283.37 399.31,283.14 399.85,282.90 400.38,282.65 400.92,282.38 401.46,282.10 401.99,281.80 402.53,281.48 403.06,281.15 403.60,280.80 404.14,280.43 404.67,280.05 405.21,279.64 405.75,279.22 406.28,278.77 406.82,278.31 407.35,277.82 407.89,277.31 408.43,276.77 408.96,276.21 409.50,275.63 410.04,275.03 410.57,274.40 411.11,273.74 411.64,273.06 412.18,272.35 412.72,271.62 413.25,270.86 413.79,270.07 414.33,269.25 414.86,268.41 415.40,267.54 415.93,266.64 416.47,265.71 417.01,264.76 417.54,263.77 418.08,262.76 418.62,261.72 419.15,260.66 419.69,259.57 420.22,258.45 420.76,257.31 421.30,256.14 421.83,254.94 422.37,253.72 422.91,252.48 423.44,251.22 423.98,249.93 424.51,248.63 425.05,247.30 425.59,245.96 426.12,244.60 426.66,243.22 427.20,241.84 427.73,240.43 428.27,239.02 428.80,237.60 429.34,236.17 429.88,234.74 430.41,233.30 430.95,231.86 431.49,230.42 432.02,228.98 432.56,227.54 433.09,226.11 433.63,224.69 434.17,223.29 434.70,221.89 435.24,220.51 435.78,219.14 436.31,217.80 436.85,216.47 437.38,215.17 437.92,213.90 438.46,212.66 438.99,211.44 439.53,210.26 440.07,209.12 440.60,208.01 441.14,206.94 441.67,205.91 442.21,204.93 442.75,203.99 443.28,203.10 443.82,202.26 444.36,201.46 444.89,200.72 445.43,200.04 445.96,199.41 446.50,198.83 447.04,198.31 447.57,197.85 448.11,197.45 448.65,197.11 449.18,196.83 449.72,196.61 450.25,196.46 450.79,196.36 451.33,196.33 451.86,196.37 452.40,196.47 452.94,196.65 453.47,196.89 454.01,197.20 454.54,197.58 455.08,198.02 455.62,198.54 456.15,199.11 456.69,199.75 457.23,200.45 457.76,201.21 458.30,202.03 458.83,202.91 459.37,203.84 459.91,204.82 460.44,205.86 460.98,206.94 461.52,208.07 462.05,209.24 462.59,210.46 463.12,211.71 463.66,213.00 464.20,214.32 464.73,215.68 465.27,217.06 465.81,218.47 466.34,219.90 466.88,221.35 467.41,222.82 467.95,224.30 468.49,225.80 469.02,227.30 469.56,228.82 470.10,230.34 470.63,231.86 471.17,233.38 471.70,234.90 472.24,236.41 472.78,237.92 473.31,239.42 473.85,240.90 474.39,242.38 474.92,243.84 475.46,245.28 475.99,246.71 476.53,248.11 477.07,249.50 477.60,250.86 478.14,252.20 478.68,253.52 479.21,254.81 479.75,256.07 480.28,257.31 480.82,258.51 481.36,259.69 481.89,260.84 482.43,261.96 482.97,263.05 483.50,264.10 484.04,265.13 484.57,266.13 485.11,267.09 485.65,268.02 486.18,268.93 486.72,269.80 487.26,270.64 487.79,271.45 488.33,272.23 488.86,272.98 489.40,273.70 489.94,274.40 490.47,275.06 491.01,275.70 491.55,276.31 492.08,276.89 492.62,277.45 493.15,277.98 493.69,278.49 494.23,278.97 494.76,279.43 495.30,279.87 495.84,280.29 496.37,280.68 496.91,281.06 497.44,281.41 497.98,281.75 498.52,282.07 499.05,282.37 499.59,282.65 500.13,282.92 500.66,283.17 501.20,283.41 501.73,283.63 502.27,283.84 502.81,284.04 503.34,284.22 503.88,284.40 504.42,284.56 504.95,284.71 505.49,284.85 506.02,284.99 506.56,285.11 507.10,285.22 507.63,285.33 508.17,285.43 508.71,285.53 509.24,285.61 509.78,285.69 510.31,285.77 510.85,285.84 511.39,285.90 511.92,285.96 512.46,286.02 513.00,286.07 513.53,286.11 514.07,286.16 514.60,286.20 515.14,286.23 515.68,286.27 516.21,286.30 516.75,286.33 517.29,286.35 517.82,286.38 518.36,286.40 518.89,286.42 519.43,286.44 519.97,286.45 520.50,286.47 521.04,286.48 521.58,286.50 522.11,286.51 522.65,286.52 523.18,286.53 523.72,286.54 524.26,286.54 524.79,286.55 525.33,286.56 525.87,286.56 526.40,286.57 526.94,286.57 527.47,286.58 528.01,286.58 528.55,286.59 529.08,286.59 529.62,286.59 530.16,286.59 530.69,286.60 531.23,286.60 531.76,286.60 532.30,286.60 532.84,286.60 533.37,286.61 533.91,286.61 534.45,286.61 534.98,286.61 535.52,286.61 536.05,286.61 536.59,286.61 537.13,286.61 537.66,286.61 538.20,286.61 538.74,286.61 539.27,286.61 539.81,286.61 540.34,286.61 540.88,286.61 541.42,286.61 541.95,286.61 542.49,286.61 543.03,286.61 543.56,286.62 544.10,286.62 544.63,286.62" fill="none" stroke="#16948a" stroke-width="1.6" stroke-dasharray="2.8 1.8"/>
<polyline points="396.63,286.62 397.17,286.62 397.70,286.62 398.24,286.62 398.77,286.61 399.31,286.61 399.85,286.61 400.38,286.61 400.92,286.61 401.46,286.61 401.99,286.61 402.53,286.61 403.06,286.61 403.60,286.61 404.14,286.61 404.67,286.61 405.21,286.61 405.75,286.61 406.28,286.61 406.82,286.61 407.35,286.61 407.89,286.60 408.43,286.60 408.96,286.60 409.50,286.60 410.04,286.60 410.57,286.60 411.11,286.59 411.64,286.59 412.18,286.59 412.72,286.58 413.25,286.58 413.79,286.57 414.33,286.57 414.86,286.56 415.40,286.55 415.93,286.55 416.47,286.54 417.01,286.53 417.54,286.52 418.08,286.50 418.62,286.49 419.15,286.48 419.69,286.46 420.22,286.44 420.76,286.42 421.30,286.40 421.83,286.37 422.37,286.35 422.91,286.32 423.44,286.29 423.98,286.25 424.51,286.21 425.05,286.17 425.59,286.12 426.12,286.07 426.66,286.01 427.20,285.95 427.73,285.88 428.27,285.81 428.80,285.73 429.34,285.64 429.88,285.54 430.41,285.44 430.95,285.33 431.49,285.20 432.02,285.07 432.56,284.93 433.09,284.78 433.63,284.61 434.17,284.43 434.70,284.24 435.24,284.03 435.78,283.81 436.31,283.57 436.85,283.31 437.38,283.03 437.92,282.74 438.46,282.42 438.99,282.09 439.53,281.73 440.07,281.35 440.60,280.94 441.14,280.50 441.67,280.04 442.21,279.56 442.75,279.04 443.28,278.49 443.82,277.91 444.36,277.30 444.89,276.65 445.43,275.97 445.96,275.26 446.50,274.50 447.04,273.71 447.57,272.88 448.11,272.01 448.65,271.10 449.18,270.15 449.72,269.15 450.25,268.12 450.79,267.03 451.33,265.91 451.86,264.74 452.40,263.53 452.94,262.27 453.47,260.96 454.01,259.62 454.54,258.22 455.08,256.79 455.62,255.31 456.15,253.78 456.69,252.22 457.23,250.61 457.76,248.97 458.30,247.28 458.83,245.56 459.37,243.80 459.91,242.01 460.44,240.19 460.98,238.33 461.52,236.45 462.05,234.55 462.59,232.62 463.12,230.67 463.66,228.71 464.20,226.74 464.73,224.75 465.27,222.76 465.81,220.76 466.34,218.77 466.88,216.78 467.41,214.80 467.95,212.83 468.49,210.87 469.02,208.94 469.56,207.04 470.10,205.16 470.63,203.31 471.17,201.50 471.70,199.74 472.24,198.02 472.78,196.35 473.31,194.73 473.85,193.17 474.39,191.67 474.92,190.24 475.46,188.88 475.99,187.59 476.53,186.38 477.07,185.24 477.60,184.19 478.14,183.22 478.68,182.35 479.21,181.56 479.75,180.86 480.28,180.26 480.82,179.76 481.36,179.35 481.89,179.04 482.43,178.83 482.97,178.72 483.50,178.71 484.04,178.81 484.57,179.02 485.11,179.34 485.65,179.77 486.18,180.30 486.72,180.95 487.26,181.69 487.79,182.54 488.33,183.49 488.86,184.53 489.40,185.67 489.94,186.90 490.47,188.21 491.01,189.60 491.55,191.08 492.08,192.62 492.62,194.24 493.15,195.93 493.69,197.67 494.23,199.47 494.76,201.32 495.30,203.22 495.84,205.16 496.37,207.13 496.91,209.14 497.44,211.17 497.98,213.23 498.52,215.30 499.05,217.39 499.59,219.48 500.13,221.58 500.66,223.68 501.20,225.77 501.73,227.85 502.27,229.92 502.81,231.97 503.34,234.01 503.88,236.02 504.42,238.00 504.95,239.95 505.49,241.87 506.02,243.76 506.56,245.60 507.10,247.41 507.63,249.18 508.17,250.90 508.71,252.58 509.24,254.22 509.78,255.80 510.31,257.34 510.85,258.84 511.39,260.28 511.92,261.67 512.46,263.01 513.00,264.31 513.53,265.55 514.07,266.75 514.60,267.90 515.14,269.00 515.68,270.05 516.21,271.05 516.75,272.01 517.29,272.93 517.82,273.79 518.36,274.62 518.89,275.41 519.43,276.15 519.97,276.86 520.50,277.52 521.04,278.15 521.58,278.75 522.11,279.31 522.65,279.84 523.18,280.33 523.72,280.80 524.26,281.23 524.79,281.64 525.33,282.02 525.87,282.38 526.40,282.72 526.94,283.03 527.47,283.32 528.01,283.59 528.55,283.84 529.08,284.07 529.62,284.28 530.16,284.48 530.69,284.67 531.23,284.84 531.76,284.99 532.30,285.14 532.84,285.27 533.37,285.39 533.91,285.51 534.45,285.61 534.98,285.70 535.52,285.79 536.05,285.87 536.59,285.94 537.13,286.01 537.66,286.07 538.20,286.12 538.74,286.17 539.27,286.22 539.81,286.26 540.34,286.29 540.88,286.33 541.42,286.36 541.95,286.39 542.49,286.41 543.03,286.43 543.56,286.45 544.10,286.47 544.63,286.49" fill="none" stroke="#16948a" stroke-width="1.6" stroke-dasharray="2.8 1.8"/>
</g>
<line x1="495.1" y1="168.2" x2="508.8" y2="168.2" stroke="#e8161e" stroke-width="1.3"/>
<text x="509.5" y="170.4" font-size="6.6" font-weight="normal" fill="#1a1a1a" text-anchor="start" textLength="36" lengthAdjust="spacingAndGlyphs" >After amplified</text>
<line x1="495.1" y1="174.9" x2="508.8" y2="174.9" stroke="#16948a" stroke-width="1.5" stroke-dasharray="2.8 1.8"/>
<text x="509.5" y="177.3" font-size="6.6" font-weight="normal" fill="#1a1a1a" text-anchor="start" textLength="27" lengthAdjust="spacingAndGlyphs" >fitting curve</text>
<line x1="396.20" y1="284.5" x2="396.20" y2="283.5" stroke="#6c6c6c" stroke-width="0.6"/>
<line x1="396.20" y1="161.3" x2="396.20" y2="162.3" stroke="#6c6c6c" stroke-width="0.6"/>
<line x1="417.65" y1="284.5" x2="417.65" y2="283.5" stroke="#6c6c6c" stroke-width="0.6"/>
<line x1="417.65" y1="161.3" x2="417.65" y2="162.3" stroke="#6c6c6c" stroke-width="0.6"/>
<line x1="439.10" y1="284.5" x2="439.10" y2="283.5" stroke="#6c6c6c" stroke-width="0.6"/>
<line x1="439.10" y1="161.3" x2="439.10" y2="162.3" stroke="#6c6c6c" stroke-width="0.6"/>
<line x1="460.55" y1="284.5" x2="460.55" y2="283.5" stroke="#6c6c6c" stroke-width="0.6"/>
<line x1="460.55" y1="161.3" x2="460.55" y2="162.3" stroke="#6c6c6c" stroke-width="0.6"/>
<line x1="482.00" y1="284.5" x2="482.00" y2="283.5" stroke="#6c6c6c" stroke-width="0.6"/>
<line x1="482.00" y1="161.3" x2="482.00" y2="162.3" stroke="#6c6c6c" stroke-width="0.6"/>
<line x1="503.45" y1="284.5" x2="503.45" y2="283.5" stroke="#6c6c6c" stroke-width="0.6"/>
<line x1="503.45" y1="161.3" x2="503.45" y2="162.3" stroke="#6c6c6c" stroke-width="0.6"/>
<line x1="524.90" y1="284.5" x2="524.90" y2="283.5" stroke="#6c6c6c" stroke-width="0.6"/>
<line x1="524.90" y1="161.3" x2="524.90" y2="162.3" stroke="#6c6c6c" stroke-width="0.6"/>
<line x1="396.2" y1="196.33" x2="397.2" y2="196.33" stroke="#6c6c6c" stroke-width="0.6"/>
<line x1="544.9" y1="196.33" x2="543.9" y2="196.33" stroke="#6c6c6c" stroke-width="0.6"/>
<line x1="396.2" y1="231.60" x2="397.2" y2="231.60" stroke="#6c6c6c" stroke-width="0.6"/>
<line x1="544.9" y1="231.60" x2="543.9" y2="231.60" stroke="#6c6c6c" stroke-width="0.6"/>
<line x1="396.2" y1="266.87" x2="397.2" y2="266.87" stroke="#6c6c6c" stroke-width="0.6"/>
<line x1="544.9" y1="266.87" x2="543.9" y2="266.87" stroke="#6c6c6c" stroke-width="0.6"/>
<rect x="396.2" y="161.3" width="148.7" height="123.19999999999999" fill="none" stroke="#6c6c6c" stroke-width="1.2"/>
<line x1="406.93" y1="284.5" x2="406.93" y2="282.9" stroke="#6c6c6c" stroke-width="0.7"/>
<line x1="406.93" y1="161.3" x2="406.93" y2="162.9" stroke="#6c6c6c" stroke-width="0.7"/>
<line x1="428.38" y1="284.5" x2="428.38" y2="282.9" stroke="#6c6c6c" stroke-width="0.7"/>
<line x1="428.38" y1="161.3" x2="428.38" y2="162.9" stroke="#6c6c6c" stroke-width="0.7"/>
<line x1="449.82" y1="284.5" x2="449.82" y2="282.9" stroke="#6c6c6c" stroke-width="0.7"/>
<line x1="449.82" y1="161.3" x2="449.82" y2="162.9" stroke="#6c6c6c" stroke-width="0.7"/>
<line x1="471.27" y1="284.5" x2="471.27" y2="282.9" stroke="#6c6c6c" stroke-width="0.7"/>
<line x1="471.27" y1="161.3" x2="471.27" y2="162.9" stroke="#6c6c6c" stroke-width="0.7"/>
<line x1="492.73" y1="284.5" x2="492.73" y2="282.9" stroke="#6c6c6c" stroke-width="0.7"/>
<line x1="492.73" y1="161.3" x2="492.73" y2="162.9" stroke="#6c6c6c" stroke-width="0.7"/>
<line x1="514.17" y1="284.5" x2="514.17" y2="282.9" stroke="#6c6c6c" stroke-width="0.7"/>
<line x1="514.17" y1="161.3" x2="514.17" y2="162.9" stroke="#6c6c6c" stroke-width="0.7"/>
<line x1="535.62" y1="284.5" x2="535.62" y2="282.9" stroke="#6c6c6c" stroke-width="0.7"/>
<line x1="535.62" y1="161.3" x2="535.62" y2="162.9" stroke="#6c6c6c" stroke-width="0.7"/>
<line x1="396.2" y1="178.70" x2="397.8" y2="178.70" stroke="#6c6c6c" stroke-width="0.7"/>
<line x1="544.9" y1="178.70" x2="543.3" y2="178.70" stroke="#6c6c6c" stroke-width="0.7"/>
<line x1="396.2" y1="213.97" x2="397.8" y2="213.97" stroke="#6c6c6c" stroke-width="0.7"/>
<line x1="544.9" y1="213.97" x2="543.3" y2="213.97" stroke="#6c6c6c" stroke-width="0.7"/>
<line x1="396.2" y1="249.23" x2="397.8" y2="249.23" stroke="#6c6c6c" stroke-width="0.7"/>
<line x1="544.9" y1="249.23" x2="543.3" y2="249.23" stroke="#6c6c6c" stroke-width="0.7"/>
<line x1="396.2" y1="284.50" x2="397.8" y2="284.50" stroke="#6c6c6c" stroke-width="0.7"/>
<line x1="544.9" y1="284.50" x2="543.3" y2="284.50" stroke="#6c6c6c" stroke-width="0.7"/>
<text x="406.93" y="292.0" font-size="5.4" font-weight="normal" fill="#222" text-anchor="middle" >1040</text>
<text x="428.38" y="292.0" font-size="5.4" font-weight="normal" fill="#222" text-anchor="middle" >1050</text>
<text x="449.82" y="292.0" font-size="5.4" font-weight="normal" fill="#222" text-anchor="middle" >1060</text>
<text x="471.27" y="292.0" font-size="5.4" font-weight="normal" fill="#222" text-anchor="middle" >1070</text>
<text x="492.73" y="292.0" font-size="5.4" font-weight="normal" fill="#222" text-anchor="middle" >1080</text>
<text x="514.17" y="292.0" font-size="5.4" font-weight="normal" fill="#222" text-anchor="middle" >1090</text>
<text x="535.62" y="292.0" font-size="5.4" font-weight="normal" fill="#222" text-anchor="middle" >1100</text>
<text x="394.2" y="179.80" font-size="5.4" font-weight="normal" fill="#222" text-anchor="end" >-60</text>
<text x="394.2" y="215.07" font-size="5.4" font-weight="normal" fill="#222" text-anchor="end" >-70</text>
<text x="394.2" y="250.33" font-size="5.4" font-weight="normal" fill="#222" text-anchor="end" >-80</text>
<text x="394.2" y="285.60" font-size="5.4" font-weight="normal" fill="#222" text-anchor="end" >-90</text>
<text x="449.2" y="301.4" font-size="6.6" font-weight="normal" fill="#222" text-anchor="start" textLength="42.6" lengthAdjust="spacingAndGlyphs" >Wavelength(nm)</text>
<text transform="translate(381.2,236.3) rotate(-90)" font-size="7.4" fill="#1a1a1a" stroke="#1a1a1a" stroke-width="0.15" textLength="39" lengthAdjust="spacingAndGlyphs">Intensity(dBm)</text>
<text x="58.3" y="317.4" font-size="12" font-weight="bold" fill="#000" text-anchor="start" textLength="14.3" lengthAdjust="spacingAndGlyphs" >(b)</text>
<text x="249.3" y="317.6" font-size="12" font-weight="bold" fill="#000" text-anchor="start" textLength="13.1" lengthAdjust="spacingAndGlyphs" >(c)</text>
<text x="464" y="317.6" font-size="12" font-weight="bold" fill="#000" text-anchor="start" textLength="14.2" lengthAdjust="spacingAndGlyphs" >(d)</text>
</svg>
</body></html>
